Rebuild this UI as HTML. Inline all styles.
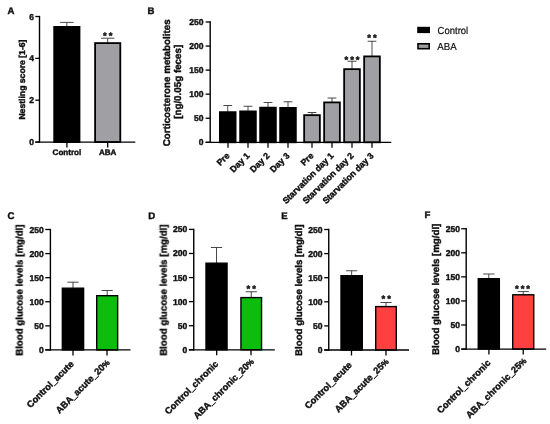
<!DOCTYPE html>
<html lang="en">
<head>
<meta charset="utf-8">
<title>Figure</title>
<style>
html,body{margin:0;padding:0;background:#fff;}
body{width:550px;height:424px;overflow:hidden;}
svg{display:block;}
svg text{text-rendering:geometricPrecision;font-family:"Liberation Sans",Arial,Helvetica,sans-serif;fill:#111;stroke:#111;stroke-width:0.42px;stroke-linejoin:round;}
svg text.lg{stroke-width:0.22px;}
</style>
</head>
<body>
<svg width="550" height="424" viewBox="0 0 550 424">
<defs><filter id="soft" x="0" y="0" width="550" height="424" filterUnits="userSpaceOnUse"><feGaussianBlur stdDeviation="0.2"/></filter></defs>
<rect x="0" y="0" width="550" height="424" fill="#ffffff"/>
<g filter="url(#soft)">
<text x="7.6" y="13.8" font-size="9.6" font-weight="bold" text-anchor="start">A</text>
<line x1="66.85" y1="27" x2="66.85" y2="22.4" stroke="#333" stroke-width="0.9"/><line x1="60.14999999999999" y1="22.4" x2="73.55" y2="22.4" stroke="#333" stroke-width="0.9"/>
<rect x="54.20" y="26.90" width="25.30" height="115.15" fill="#000" stroke="#000" stroke-width="1.8"/>
<line x1="107.7" y1="43.2" x2="107.7" y2="38.2" stroke="#333" stroke-width="0.9"/><line x1="101.0" y1="38.2" x2="114.4" y2="38.2" stroke="#333" stroke-width="0.9"/>
<rect x="95.10" y="43.10" width="25.20" height="98.95" fill="#a0a0a4" stroke="#000" stroke-width="1.8"/>
<line x1="39.5" y1="15.85" x2="39.5" y2="142.70000000000002" stroke="#050505" stroke-width="1.4"/>
<line x1="35.3" y1="142.05" x2="135.3" y2="142.05" stroke="#050505" stroke-width="1.3"/>
<line x1="35.3" y1="16.5" x2="39.5" y2="16.5" stroke="#050505" stroke-width="1.3"/>
<text x="34.0" y="19.5" font-size="8.55" font-weight="bold" text-anchor="end">6</text>
<line x1="35.3" y1="58.35" x2="39.5" y2="58.35" stroke="#050505" stroke-width="1.3"/>
<text x="34.0" y="61.35" font-size="8.55" font-weight="bold" text-anchor="end">4</text>
<line x1="35.3" y1="100.2" x2="39.5" y2="100.2" stroke="#050505" stroke-width="1.3"/>
<text x="34.0" y="103.2" font-size="8.55" font-weight="bold" text-anchor="end">2</text>
<line x1="35.3" y1="142.05" x2="39.5" y2="142.05" stroke="#050505" stroke-width="1.3"/>
<text x="34.0" y="145.05" font-size="8.55" font-weight="bold" text-anchor="end">0</text>
<line x1="66.9" y1="142.05" x2="66.9" y2="147.55" stroke="#050505" stroke-width="1.3"/>
<text x="66.9" y="155" font-size="8.05" font-weight="bold" text-anchor="middle">Control</text>
<line x1="107.7" y1="142.05" x2="107.7" y2="147.55" stroke="#050505" stroke-width="1.3"/>
<text x="107.7" y="155" font-size="8.05" font-weight="bold" text-anchor="middle">ABA</text>
<text x="25.0" y="79.6" font-size="8.64" font-weight="bold" text-anchor="middle" transform="rotate(-90 25.0 79.6)">Nestling score [1-6]</text>
<text x="103.02" y="38.75" font-size="9.5" font-weight="bold" text-anchor="start" letter-spacing="1.95">**</text>
<text x="147.5" y="13.8" font-size="9.6" font-weight="bold" text-anchor="start">B</text>
<line x1="227.75" y1="112.25" x2="227.75" y2="105.5" stroke="#333" stroke-width="0.9"/><line x1="223.35" y1="105.5" x2="232.15" y2="105.5" stroke="#333" stroke-width="0.9"/>
<rect x="219.90" y="112.15" width="15.70" height="30.15" fill="#000" stroke="#000" stroke-width="1.8"/>
<line x1="248.0" y1="111.5" x2="248.0" y2="106.25" stroke="#333" stroke-width="0.9"/><line x1="243.6" y1="106.25" x2="252.4" y2="106.25" stroke="#333" stroke-width="0.9"/>
<rect x="240.15" y="111.40" width="15.70" height="30.90" fill="#000" stroke="#000" stroke-width="1.8"/>
<line x1="268.0" y1="107.75" x2="268.0" y2="102.5" stroke="#333" stroke-width="0.9"/><line x1="263.6" y1="102.5" x2="272.4" y2="102.5" stroke="#333" stroke-width="0.9"/>
<rect x="260.15" y="107.65" width="15.70" height="34.65" fill="#000" stroke="#000" stroke-width="1.8"/>
<line x1="288.0" y1="108" x2="288.0" y2="101.75" stroke="#333" stroke-width="0.9"/><line x1="283.6" y1="101.75" x2="292.4" y2="101.75" stroke="#333" stroke-width="0.9"/>
<rect x="280.15" y="107.90" width="15.70" height="34.40" fill="#000" stroke="#000" stroke-width="1.8"/>
<line x1="312.0" y1="115.25" x2="312.0" y2="112.5" stroke="#333" stroke-width="0.9"/><line x1="307.6" y1="112.5" x2="316.4" y2="112.5" stroke="#333" stroke-width="0.9"/>
<rect x="304.15" y="115.15" width="15.70" height="27.15" fill="#a0a0a4" stroke="#000" stroke-width="1.8"/>
<line x1="332.0" y1="102.5" x2="332.0" y2="98" stroke="#333" stroke-width="0.9"/><line x1="327.6" y1="98" x2="336.4" y2="98" stroke="#333" stroke-width="0.9"/>
<rect x="324.15" y="102.40" width="15.70" height="39.90" fill="#a0a0a4" stroke="#000" stroke-width="1.8"/>
<line x1="352.0" y1="69.25" x2="352.0" y2="61.25" stroke="#333" stroke-width="0.9"/><line x1="347.6" y1="61.25" x2="356.4" y2="61.25" stroke="#333" stroke-width="0.9"/>
<rect x="344.15" y="69.15" width="15.70" height="73.15" fill="#a0a0a4" stroke="#000" stroke-width="1.8"/>
<line x1="372.0" y1="56.5" x2="372.0" y2="41.25" stroke="#333" stroke-width="0.9"/><line x1="367.6" y1="41.25" x2="376.4" y2="41.25" stroke="#333" stroke-width="0.9"/>
<rect x="364.15" y="56.40" width="15.70" height="85.90" fill="#a0a0a4" stroke="#000" stroke-width="1.8"/>
<line x1="210.2" y1="21.35" x2="210.2" y2="142.95000000000002" stroke="#050505" stroke-width="1.4"/>
<line x1="205.6" y1="142.3" x2="391.3" y2="142.3" stroke="#050505" stroke-width="1.3"/>
<line x1="205.6" y1="22" x2="210.2" y2="22" stroke="#050505" stroke-width="1.3"/>
<text x="203.6" y="25.0" font-size="8.55" font-weight="bold" text-anchor="end">250</text>
<line x1="205.6" y1="46.06" x2="210.2" y2="46.06" stroke="#050505" stroke-width="1.3"/>
<text x="203.6" y="49.06" font-size="8.55" font-weight="bold" text-anchor="end">200</text>
<line x1="205.6" y1="70.12" x2="210.2" y2="70.12" stroke="#050505" stroke-width="1.3"/>
<text x="203.6" y="73.12" font-size="8.55" font-weight="bold" text-anchor="end">150</text>
<line x1="205.6" y1="94.18" x2="210.2" y2="94.18" stroke="#050505" stroke-width="1.3"/>
<text x="203.6" y="97.18" font-size="8.55" font-weight="bold" text-anchor="end">100</text>
<line x1="205.6" y1="118.24" x2="210.2" y2="118.24" stroke="#050505" stroke-width="1.3"/>
<text x="203.6" y="121.24" font-size="8.55" font-weight="bold" text-anchor="end">50</text>
<line x1="205.6" y1="142.3" x2="210.2" y2="142.3" stroke="#050505" stroke-width="1.3"/>
<text x="203.6" y="145.3" font-size="8.55" font-weight="bold" text-anchor="end">0</text>
<line x1="228" y1="142.3" x2="228" y2="147.8" stroke="#050505" stroke-width="1.3"/>
<text x="230.2" y="156.3" font-size="8.8" font-weight="bold" text-anchor="end" transform="rotate(-45 230.2 156.3)">Pre</text>
<line x1="248" y1="142.3" x2="248" y2="147.8" stroke="#050505" stroke-width="1.3"/>
<text x="250.2" y="156.3" font-size="8.8" font-weight="bold" text-anchor="end" transform="rotate(-45 250.2 156.3)">Day 1</text>
<line x1="268" y1="142.3" x2="268" y2="147.8" stroke="#050505" stroke-width="1.3"/>
<text x="270.2" y="156.3" font-size="8.8" font-weight="bold" text-anchor="end" transform="rotate(-45 270.2 156.3)">Day 2</text>
<line x1="288" y1="142.3" x2="288" y2="147.8" stroke="#050505" stroke-width="1.3"/>
<text x="290.2" y="156.3" font-size="8.8" font-weight="bold" text-anchor="end" transform="rotate(-45 290.2 156.3)">Day 3</text>
<line x1="312" y1="142.3" x2="312" y2="147.8" stroke="#050505" stroke-width="1.3"/>
<text x="314.2" y="156.3" font-size="8.8" font-weight="bold" text-anchor="end" transform="rotate(-45 314.2 156.3)">Pre</text>
<line x1="332" y1="142.3" x2="332" y2="147.8" stroke="#050505" stroke-width="1.3"/>
<text x="334.2" y="156.3" font-size="8.8" font-weight="bold" text-anchor="end" transform="rotate(-45 334.2 156.3)">Starvation day 1</text>
<line x1="352" y1="142.3" x2="352" y2="147.8" stroke="#050505" stroke-width="1.3"/>
<text x="354.2" y="156.3" font-size="8.8" font-weight="bold" text-anchor="end" transform="rotate(-45 354.2 156.3)">Starvation day 2</text>
<line x1="372" y1="142.3" x2="372" y2="147.8" stroke="#050505" stroke-width="1.3"/>
<text x="374.2" y="156.3" font-size="8.8" font-weight="bold" text-anchor="end" transform="rotate(-45 374.2 156.3)">Starvation day 3</text>
<text x="170.0" y="82.8" font-size="9.8" font-weight="bold" text-anchor="middle" transform="rotate(-90 170.0 82.8)">Corticosterone metabolites</text>
<text x="181.1" y="81.8" font-size="9.8" font-weight="bold" text-anchor="middle" transform="rotate(-90 181.1 81.8)">[ng/0.05g feces]</text>
<text x="344.49" y="62.75" font-size="9.5" font-weight="bold" text-anchor="start" letter-spacing="1.95">***</text>
<text x="367.32" y="41.35" font-size="9.5" font-weight="bold" text-anchor="start" letter-spacing="1.95">**</text>
<text x="7.6" y="219.4" font-size="9.6" font-weight="bold" text-anchor="start">C</text>
<line x1="72.975" y1="288.5" x2="72.975" y2="282.2" stroke="#333" stroke-width="0.9"/><line x1="67.375" y1="282.2" x2="78.57499999999999" y2="282.2" stroke="#333" stroke-width="0.9"/>
<rect x="62.35" y="288.20" width="21.25" height="61.75" fill="#000" stroke="#000" stroke-width="1.4"/>
<line x1="107.175" y1="296" x2="107.175" y2="290.5" stroke="#333" stroke-width="0.9"/><line x1="101.575" y1="290.5" x2="112.77499999999999" y2="290.5" stroke="#333" stroke-width="0.9"/>
<rect x="96.70" y="295.70" width="20.95" height="54.25" fill="#0abd10" stroke="#000" stroke-width="1.4"/>
<line x1="50.4" y1="228.85" x2="50.4" y2="350.59999999999997" stroke="#050505" stroke-width="1.4"/>
<line x1="45.25" y1="349.95" x2="130.5" y2="349.95" stroke="#050505" stroke-width="1.3"/>
<line x1="45.25" y1="229.5" x2="50.4" y2="229.5" stroke="#050505" stroke-width="1.3"/>
<text x="43.75" y="232.5" font-size="8.55" font-weight="bold" text-anchor="end">250</text>
<line x1="45.25" y1="253.59" x2="50.4" y2="253.59" stroke="#050505" stroke-width="1.3"/>
<text x="43.75" y="256.59" font-size="8.55" font-weight="bold" text-anchor="end">200</text>
<line x1="45.25" y1="277.68" x2="50.4" y2="277.68" stroke="#050505" stroke-width="1.3"/>
<text x="43.75" y="280.68" font-size="8.55" font-weight="bold" text-anchor="end">150</text>
<line x1="45.25" y1="301.77" x2="50.4" y2="301.77" stroke="#050505" stroke-width="1.3"/>
<text x="43.75" y="304.77" font-size="8.55" font-weight="bold" text-anchor="end">100</text>
<line x1="45.25" y1="325.86" x2="50.4" y2="325.86" stroke="#050505" stroke-width="1.3"/>
<text x="43.75" y="328.86" font-size="8.55" font-weight="bold" text-anchor="end">50</text>
<line x1="45.25" y1="349.95" x2="50.4" y2="349.95" stroke="#050505" stroke-width="1.3"/>
<text x="43.75" y="352.95" font-size="8.55" font-weight="bold" text-anchor="end">0</text>
<line x1="73" y1="349.95" x2="73" y2="355.45" stroke="#050505" stroke-width="1.3"/>
<text x="74.39999999999999" y="364.6" font-size="9.25" font-weight="bold" text-anchor="end" transform="rotate(-45 74.39999999999999 364.6)">Control_acute</text>
<line x1="107" y1="349.95" x2="107" y2="355.45" stroke="#050505" stroke-width="1.3"/>
<text x="110.4" y="363.1" font-size="9.25" font-weight="bold" text-anchor="end" transform="rotate(-45 110.4 363.1)">ABA_acute_20<tspan font-size="8">%</tspan></text>
<text x="22.8" y="290.2" font-size="9.7" font-weight="bold" text-anchor="middle" transform="rotate(-90 22.8 290.2)">Blood glucose levels [mg/dl]</text>
<text x="148.2" y="219.4" font-size="9.6" font-weight="bold" text-anchor="start">D</text>
<line x1="216.525" y1="263.5" x2="216.525" y2="247.5" stroke="#333" stroke-width="0.9"/><line x1="210.925" y1="247.5" x2="222.125" y2="247.5" stroke="#333" stroke-width="0.9"/>
<rect x="206.00" y="263.20" width="21.05" height="86.60" fill="#000" stroke="#000" stroke-width="1.4"/>
<line x1="251.25" y1="297.9" x2="251.25" y2="291.75" stroke="#333" stroke-width="0.9"/><line x1="245.65" y1="291.75" x2="256.85" y2="291.75" stroke="#333" stroke-width="0.9"/>
<rect x="240.95" y="297.60" width="20.60" height="52.20" fill="#0abd10" stroke="#000" stroke-width="1.4"/>
<line x1="193.75" y1="228.75" x2="193.75" y2="350.45" stroke="#050505" stroke-width="1.4"/>
<line x1="188.9" y1="349.8" x2="274.8" y2="349.8" stroke="#050505" stroke-width="1.3"/>
<line x1="188.9" y1="229.4" x2="193.75" y2="229.4" stroke="#050505" stroke-width="1.3"/>
<text x="187.3" y="232.4" font-size="8.55" font-weight="bold" text-anchor="end">250</text>
<line x1="188.9" y1="253.48" x2="193.75" y2="253.48" stroke="#050505" stroke-width="1.3"/>
<text x="187.3" y="256.48" font-size="8.55" font-weight="bold" text-anchor="end">200</text>
<line x1="188.9" y1="277.56" x2="193.75" y2="277.56" stroke="#050505" stroke-width="1.3"/>
<text x="187.3" y="280.56" font-size="8.55" font-weight="bold" text-anchor="end">150</text>
<line x1="188.9" y1="301.64" x2="193.75" y2="301.64" stroke="#050505" stroke-width="1.3"/>
<text x="187.3" y="304.64" font-size="8.55" font-weight="bold" text-anchor="end">100</text>
<line x1="188.9" y1="325.72" x2="193.75" y2="325.72" stroke="#050505" stroke-width="1.3"/>
<text x="187.3" y="328.72" font-size="8.55" font-weight="bold" text-anchor="end">50</text>
<line x1="188.9" y1="349.8" x2="193.75" y2="349.8" stroke="#050505" stroke-width="1.3"/>
<text x="187.3" y="352.8" font-size="8.55" font-weight="bold" text-anchor="end">0</text>
<line x1="216.7" y1="349.8" x2="216.7" y2="355.3" stroke="#050505" stroke-width="1.3"/>
<text x="219.0" y="364.5" font-size="9.25" font-weight="bold" text-anchor="end" transform="rotate(-45 219.0 364.5)">Control_chronic</text>
<line x1="251" y1="349.8" x2="251" y2="355.3" stroke="#050505" stroke-width="1.3"/>
<text x="254.6" y="362.2" font-size="9.25" font-weight="bold" text-anchor="end" transform="rotate(-45 254.6 362.2)">ABA_chronic_20<tspan font-size="8">%</tspan></text>
<text x="166.8" y="290.09999999999997" font-size="9.7" font-weight="bold" text-anchor="middle" transform="rotate(-90 166.8 290.09999999999997)">Blood glucose levels [mg/dl]</text>
<text x="246.52" y="292.15" font-size="9.5" font-weight="bold" text-anchor="start" letter-spacing="1.95">**</text>
<text x="281.3" y="219.4" font-size="9.6" font-weight="bold" text-anchor="start">E</text>
<line x1="351.65" y1="276" x2="351.65" y2="270.75" stroke="#333" stroke-width="0.9"/><line x1="346.04999999999995" y1="270.75" x2="357.25" y2="270.75" stroke="#333" stroke-width="0.9"/>
<rect x="341.00" y="275.70" width="21.30" height="74.30" fill="#000" stroke="#000" stroke-width="1.4"/>
<line x1="386.0" y1="306.9" x2="386.0" y2="302.5" stroke="#333" stroke-width="0.9"/><line x1="380.4" y1="302.5" x2="391.6" y2="302.5" stroke="#333" stroke-width="0.9"/>
<rect x="375.70" y="306.60" width="20.60" height="43.40" fill="#ff4040" stroke="#000" stroke-width="1.4"/>
<line x1="328.75" y1="228.85" x2="328.75" y2="350.65" stroke="#050505" stroke-width="1.4"/>
<line x1="324.2" y1="350.0" x2="409" y2="350.0" stroke="#050505" stroke-width="1.3"/>
<line x1="324.2" y1="229.5" x2="328.75" y2="229.5" stroke="#050505" stroke-width="1.3"/>
<text x="322.4" y="232.5" font-size="8.55" font-weight="bold" text-anchor="end">250</text>
<line x1="324.2" y1="253.6" x2="328.75" y2="253.6" stroke="#050505" stroke-width="1.3"/>
<text x="322.4" y="256.6" font-size="8.55" font-weight="bold" text-anchor="end">200</text>
<line x1="324.2" y1="277.7" x2="328.75" y2="277.7" stroke="#050505" stroke-width="1.3"/>
<text x="322.4" y="280.7" font-size="8.55" font-weight="bold" text-anchor="end">150</text>
<line x1="324.2" y1="301.8" x2="328.75" y2="301.8" stroke="#050505" stroke-width="1.3"/>
<text x="322.4" y="304.8" font-size="8.55" font-weight="bold" text-anchor="end">100</text>
<line x1="324.2" y1="325.9" x2="328.75" y2="325.9" stroke="#050505" stroke-width="1.3"/>
<text x="322.4" y="328.9" font-size="8.55" font-weight="bold" text-anchor="end">50</text>
<line x1="324.2" y1="350.0" x2="328.75" y2="350.0" stroke="#050505" stroke-width="1.3"/>
<text x="322.4" y="353.0" font-size="8.55" font-weight="bold" text-anchor="end">0</text>
<line x1="351.5" y1="350.0" x2="351.5" y2="355.5" stroke="#050505" stroke-width="1.3"/>
<text x="352.5" y="365.6" font-size="9.25" font-weight="bold" text-anchor="end" transform="rotate(-45 352.5 365.6)">Control_acute</text>
<line x1="386" y1="350.0" x2="386" y2="355.5" stroke="#050505" stroke-width="1.3"/>
<text x="389.4" y="362.1" font-size="9.25" font-weight="bold" text-anchor="end" transform="rotate(-45 389.4 362.1)">ABA_acute_25<tspan font-size="8">%</tspan></text>
<text x="302.0" y="290.3" font-size="9.7" font-weight="bold" text-anchor="middle" transform="rotate(-90 302.0 290.3)">Blood glucose levels [mg/dl]</text>
<text x="381.52" y="301.75" font-size="9.5" font-weight="bold" text-anchor="start" letter-spacing="1.95">**</text>
<text x="424.6" y="217.5" font-size="9.6" font-weight="bold" text-anchor="start">F</text>
<line x1="488.8" y1="279" x2="488.8" y2="274" stroke="#333" stroke-width="0.9"/><line x1="483.2" y1="274" x2="494.40000000000003" y2="274" stroke="#333" stroke-width="0.9"/>
<rect x="478.25" y="278.70" width="21.10" height="70.35" fill="#000" stroke="#000" stroke-width="1.4"/>
<line x1="523.225" y1="295.1" x2="523.225" y2="291.6" stroke="#333" stroke-width="0.9"/><line x1="517.625" y1="291.6" x2="528.825" y2="291.6" stroke="#333" stroke-width="0.9"/>
<rect x="512.70" y="294.80" width="21.05" height="54.25" fill="#ff4040" stroke="#000" stroke-width="1.4"/>
<line x1="466.2" y1="228.1" x2="466.2" y2="349.7" stroke="#050505" stroke-width="1.4"/>
<line x1="461.2" y1="349.05" x2="546.2" y2="349.05" stroke="#050505" stroke-width="1.3"/>
<line x1="461.2" y1="228.75" x2="466.2" y2="228.75" stroke="#050505" stroke-width="1.3"/>
<text x="460.0" y="231.75" font-size="8.55" font-weight="bold" text-anchor="end">250</text>
<line x1="461.2" y1="252.81" x2="466.2" y2="252.81" stroke="#050505" stroke-width="1.3"/>
<text x="460.0" y="255.81" font-size="8.55" font-weight="bold" text-anchor="end">200</text>
<line x1="461.2" y1="276.87" x2="466.2" y2="276.87" stroke="#050505" stroke-width="1.3"/>
<text x="460.0" y="279.87" font-size="8.55" font-weight="bold" text-anchor="end">150</text>
<line x1="461.2" y1="300.93" x2="466.2" y2="300.93" stroke="#050505" stroke-width="1.3"/>
<text x="460.0" y="303.93" font-size="8.55" font-weight="bold" text-anchor="end">100</text>
<line x1="461.2" y1="324.99" x2="466.2" y2="324.99" stroke="#050505" stroke-width="1.3"/>
<text x="460.0" y="327.99" font-size="8.55" font-weight="bold" text-anchor="end">50</text>
<line x1="461.2" y1="349.05" x2="466.2" y2="349.05" stroke="#050505" stroke-width="1.3"/>
<text x="460.0" y="352.05" font-size="8.55" font-weight="bold" text-anchor="end">0</text>
<line x1="488.9" y1="349.05" x2="488.9" y2="354.55" stroke="#050505" stroke-width="1.3"/>
<text x="491.2" y="363.45000000000005" font-size="9.25" font-weight="bold" text-anchor="end" transform="rotate(-45 491.2 363.45000000000005)">Control_chronic</text>
<line x1="523.2" y1="349.05" x2="523.2" y2="354.55" stroke="#050505" stroke-width="1.3"/>
<text x="527.1" y="361.35" font-size="9.25" font-weight="bold" text-anchor="end" transform="rotate(-45 527.1 361.35)">ABA_chronic_25<tspan font-size="8">%</tspan></text>
<text x="439.1" y="289.35" font-size="9.7" font-weight="bold" text-anchor="middle" transform="rotate(-90 439.1 289.35)">Blood glucose levels [mg/dl]</text>
<text x="515.09" y="291.75" font-size="9.5" font-weight="bold" text-anchor="start" letter-spacing="1.95">***</text>
<rect x="417.2" y="26.8" width="12.8" height="6.3" fill="#000"/>
<rect x="418.0" y="43.8" width="11.2" height="4.9" fill="#a0a0a4" stroke="#000" stroke-width="1.6"/>
<text x="437.6" y="33.75" font-size="10.1" font-weight="normal" text-anchor="start" class="lg" textLength="30.6" lengthAdjust="spacingAndGlyphs">Control</text>
<text x="437.3" y="49.75" font-size="10.1" font-weight="normal" text-anchor="start" class="lg" textLength="19.4" lengthAdjust="spacingAndGlyphs">ABA</text>
</g>
</svg>
</body>
</html>
